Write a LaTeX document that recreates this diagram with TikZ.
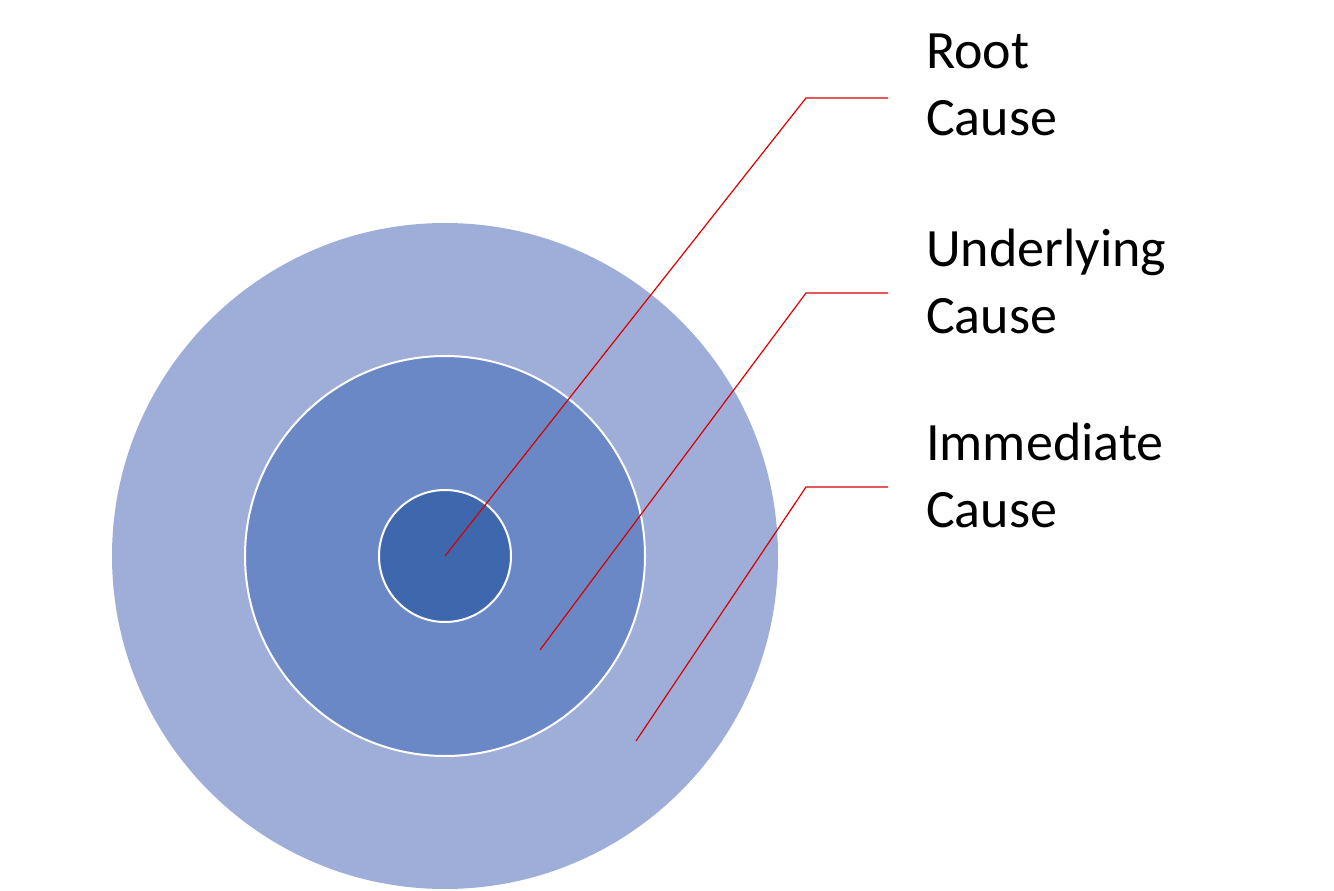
\documentclass[tikz,border=0pt]{standalone}
\usepackage{fontspec}
\setmainfont{Carlito}
\begin{document}
\begin{tikzpicture}[x=1pt,y=-1pt,
  ring/.style={draw=white,line width=2pt},
  lead/.style={draw=red!85!black,line width=1.2pt},
  lbl/.style={anchor=north west,align=left,inner sep=0pt,font=\fontsize{54}{67}\selectfont}]
\useasboundingbox (0,0) rectangle (1334,891);
\fill[fill={rgb,255:red,159;green,174;blue,216}] (445,556) circle (333);
\draw[ring,fill={rgb,255:red,107;green,136;blue,198}] (445,556) circle (200);
\draw[ring,fill={rgb,255:red,63;green,103;blue,174}] (445,556) circle (66);
\coordinate (r0) at (445,556); \coordinate (r1) at (806,98); \coordinate (r2) at (888,98);
\coordinate (u0) at (540,650); \coordinate (u1) at (806,293); \coordinate (u2) at (888,293);
\coordinate (i0) at (636,741); \coordinate (i1) at (806,487); \coordinate (i2) at (888,487);
\draw[lead] (r0) -- (r1) -- (r2);
\draw[lead] (u0) -- (u1) -- (u2);
\draw[lead] (i0) -- (i1) -- (i2);
\node[lbl] (root) at (926,34) {Root\\Cause};
\node[lbl] (und) at (926,229) {Underlying\\Cause};
\node[lbl] (imm) at (926,423) {Immediate\\Cause};
\end{tikzpicture}
\end{document}
